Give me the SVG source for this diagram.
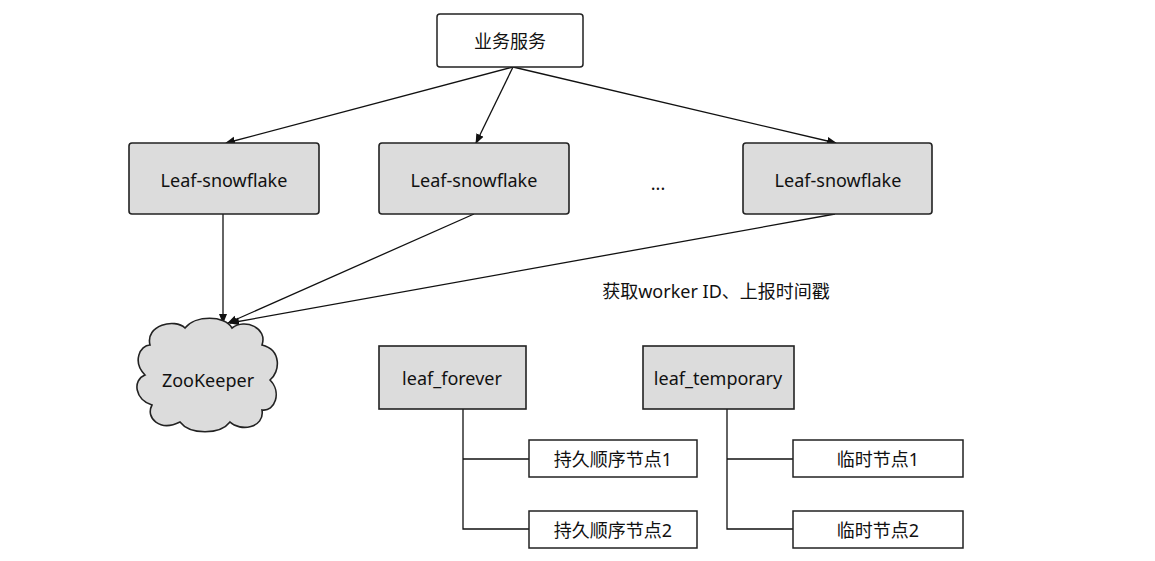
<svg xmlns="http://www.w3.org/2000/svg" width="1155" height="561" viewBox="0 0 1155 561">
<style>
text{font-family:"Noto Sans","Noto Sans CJK SC",sans-serif;font-size:18px;fill:#111;text-anchor:middle;dominant-baseline:central}
.g{fill:#dcdcdc;stroke:#222;stroke-width:1.6}
.w{fill:#fff;stroke:#222;stroke-width:1.5}
.c line,.c polyline{stroke:#111;stroke-width:1.3;fill:none}
</style>
<defs><marker id="a" markerWidth="10" markerHeight="10" refX="9" refY="5" orient="auto" markerUnits="userSpaceOnUse"><path d="M0,1 L10,5 L0,9 Z" fill="#111"/></marker></defs>
<rect width="1155" height="561" fill="#fff"/>
<g class="c">
<line x1="513" y1="67" x2="226" y2="143" marker-end="url(#a)"/>
<line x1="513" y1="67" x2="476" y2="143" marker-end="url(#a)"/>
<line x1="513" y1="67" x2="836" y2="143" marker-end="url(#a)"/>
<line x1="223" y1="214" x2="223" y2="323" marker-end="url(#a)"/>
<line x1="474" y1="214" x2="228" y2="323" marker-end="url(#a)"/>
<line x1="835" y1="214" x2="230" y2="323" marker-end="url(#a)"/>
<polyline points="463,409 463,529 529,529"/><line x1="463" y1="459" x2="529" y2="459"/>
<polyline points="727,409 727,529 793,529"/><line x1="727" y1="459" x2="793" y2="459"/>
</g>
<g id="biz"><rect class="w" x="437" y="14" width="146" height="53" rx="3"/><text x="510" y="41">业务服务</text></g>
<g id="leaf1"><rect class="g" x="129" y="143" width="190" height="71" rx="3"/><text x="224" y="180">Leaf-snowflake</text></g>
<g id="leaf2"><rect class="g" x="379" y="143" width="190" height="71" rx="3"/><text x="474" y="180">Leaf-snowflake</text></g>
<text x="658" y="183">...</text>
<g id="leaf3"><rect class="g" x="743" y="143" width="189" height="71" rx="3"/><text x="838" y="180">Leaf-snowflake</text></g>
<text x="716" y="291">获取worker ID、上报时间戳</text>
<g id="zk"><path class="g" d="M150,345 C145,325 175,318 185,328 C195,315 225,315 232,328 C245,318 268,328 262,345 C282,350 280,372 270,380 C282,392 275,412 262,410 C265,428 240,432 230,422 C220,435 190,435 180,422 C160,432 145,418 152,405 C135,400 132,380 145,375 C132,362 140,345 150,345 Z"/><text x="208" y="380">ZooKeeper</text></g>
<g id="forever"><rect class="g" x="379" y="346" width="147" height="63"/><text x="452" y="378">leaf_forever</text></g>
<g id="temporary"><rect class="g" x="643" y="346" width="151" height="63"/><text x="718" y="378">leaf_temporary</text></g>
<g id="p1"><rect class="w" x="529" y="440" width="168" height="37"/><text x="613" y="459">持久顺序节点1</text></g>
<g id="p2"><rect class="w" x="529" y="511" width="168" height="37"/><text x="613" y="530">持久顺序节点2</text></g>
<g id="t1"><rect class="w" x="793" y="440" width="170" height="37"/><text x="878" y="459">临时节点1</text></g>
<g id="t2"><rect class="w" x="793" y="511" width="170" height="37"/><text x="878" y="530">临时节点2</text></g>
</svg>
